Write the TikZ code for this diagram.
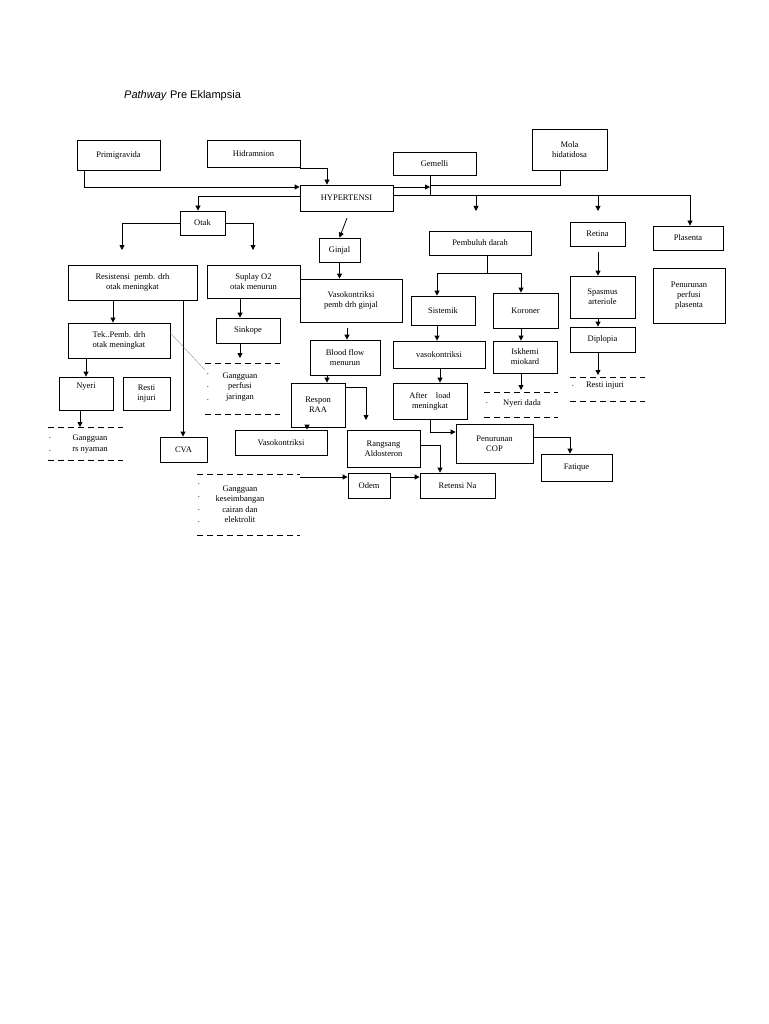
\documentclass[tikz,border=0pt]{standalone}
\usepackage{fontspec}
\setmainfont{Liberation Serif}
\newfontfamily\arialf{Liberation Sans}
\usetikzlibrary{arrows.meta}
\tikzset{
 bx/.style={draw,line width=0.8pt,inner sep=0pt,align=center,font=\fontsize{8.5}{10}\selectfont},
 ln/.style={line width=0.8pt},
 ar/.style={line width=0.8pt,-{Triangle[length=5pt,width=5pt]}},
 dl/.style={line width=0.8pt,dash pattern=on 6pt off 4pt},
 tx/.style={align=center,inner sep=0pt,font=\fontsize{8.5}{10.5}\selectfont}
}
\newcommand\bx[6]{\node[bx,minimum width={(#4-#2)*1pt},minimum height={(#5-#3)*1pt}] (#1) at ({(#2+#4)/2},{(#3+#5)/2}) {#6};}
\begin{document}
\begin{tikzpicture}[x=1pt,y=-1pt]
\useasboundingbox (0,0) rectangle (768,1024);
\node[anchor=west,inner sep=0pt,font=\arialf\fontsize{11}{13}\selectfont] (title) at (124,96) {\textit{Pathway} Pre Eklampsia};
\bx{prim}{77}{140}{160}{170}{Primigravida}
\bx{hid}{207}{140}{300}{167}{Hidramnion}
\bx{gem}{393}{152}{476}{175}{Gemelli}
\bx{mola}{532}{129}{607}{170}{Mola\\hidatidosa}
\bx{hyp}{300}{185}{393}{211}{HYPERTENSI}
\bx{otak}{180}{211}{225}{235}{Otak}
\bx{ginj}{319}{238}{360}{262}{Ginjal}
\bx{pemb}{429}{231}{531}{255}{Pembuluh darah}
\bx{ret}{570}{222}{625}{246}{Retina}
\bx{plas}{653}{226}{723}{250}{Plasenta}
\bx{resis}{68}{265}{197}{300}{Resistensi\ \ pemb. drh\\otak meningkat}
\bx{supl}{207}{265}{300}{298}{Suplay O2\\otak menurun}
\bx{vgin}{300}{279}{402}{322}{Vasokontriksi\\pemb drh ginjal}
\bx{sist}{411}{296}{475}{325}{Sistemik}
\bx{kor}{493}{293}{558}{328}{Koroner}
\bx{spas}{570}{276}{635}{318}{Spasmus\\arteriole}
\bx{perf}{653}{268}{725}{323}{Penurunan\\perfusi\\plasenta}
\bx{tek}{68}{323}{170}{358}{Tek..Pemb. drh\\otak meningkat}
\bx{sink}{216}{318}{280}{343}{Sinkope}
\bx{blood}{310}{340}{380}{375}{Blood flow\\menurun}
\bx{vas}{393}{341}{485}{368}{vasokontriksi}
\bx{isk}{493}{341}{557}{373}{Iskhemi\\miokard}
\bx{dipl}{570}{327}{635}{352}{Diplopia}
\bx{nyeri}{59}{377}{113}{410}{Nyeri\\[6pt]}
\bx{resti}{123}{377}{170}{410}{Resti\\injuri}
\bx{raa}{291}{383}{345}{427}{Respon\\RAA}
\bx{after}{393}{383}{467}{419}{After\quad load\\meningkat}
\bx{vas2}{235}{430}{327}{455}{Vasokontriksi}
\bx{cva}{160}{437}{207}{462}{CVA}
\bx{rang}{347}{430}{420}{467}{Rangsang\\Aldosteron}
\bx{cop}{456}{424}{533}{463}{Penurunan\\COP}
\bx{fat}{541}{454}{612}{481}{Fatique}
\bx{odem}{348}{473}{390}{498}{Odem}
\bx{natr}{420}{473}{495}{498}{Retensi Na}
% dashed text groups
\draw[dl] (205,363) -- (280,363); \draw[dl] (205,414) -- (280,414);
\node[tx] (gpj) at (240,387) {Gangguan\\perfusi\\jaringan};
\draw[dl] (48,427) -- (123,427); \draw[dl] (48,460) -- (123,460);
\node[tx] (grn) at (90,444) {Gangguan\\rs nyaman};
\draw[dl] (197,474) -- (300,474); \draw[dl] (197,535) -- (300,535);
\node[tx] (gke) at (240,504) {Gangguan\\keseimbangan\\cairan dan\\elektrolit};
\draw[dl] (484,392) -- (558,392); \draw[dl] (484,417) -- (558,417);
\node[tx] (nd) at (522,403) {Nyeri dada};
\draw[dl] (570,377) -- (645,377); \draw[dl] (570,401) -- (645,401);
\node[tx] (ri) at (605,386) {Resti injuri};
\foreach \y in {374,387,400} \node[tx] at (208,\y) {.};
\foreach \y in {438,451} \node[tx] at (50,\y) {.};
\foreach \y in {484,497,510,522} \node[tx] at (199,\y) {.};
\node[tx] at (487,403) {.};
\node[tx] at (573,386) {.};
% connectors
\coordinate (c1) at (84,187);
\draw[ar] (prim.south -| c1) |- (hyp.west |- c1);
\draw[ar] (hid.east |- 0,168) -| (hyp.north -| 327,0);
\draw[ln] (gem.south -| 430,0) -- (430,195);
\draw[ln] (mola.south -| 560,0) |- (430,185);
\draw[ar] (hyp.east |- 0,187) -- (430,187);
\draw[ln] (hyp.east |- 0,195) -- (690,195);
\draw[ar] (476,195) -- (476,211);
\draw[ar] (598,195) -- (598,211);
\draw[ar] (690,195) -- (plas.north -| 690,0);
\draw[ar] (hyp.west |- 0,196) -| (otak.north -| 198,0);
\draw[ar] (347,218) -- (ginj.north);
\draw[ar] (ginj.south) -- (vgin.north -| ginj.south);
\draw[ar] (otak.west) -| (122,250);
\draw[ar] (otak.east) -| (253,250);
\draw[ar] (resis.south -| 113,0) -- (tek.north -| 113,0);
\draw[ar] (resis.south -| 183,0) -- (cva.north -| 183,0);
\draw[line width=0.3pt,gray] (tek.east |- 0,333) -- (205,370);
\draw[ar] (tek.south -| 86,0) -- (nyeri.north -| 86,0);
\draw[ar] (nyeri.south -| 80,0) -- (80,427);
\draw[ar] (supl.south -| 240,0) -- (sink.north -| 240,0);
\draw[ar] (sink.south -| 240,0) -- (240,358);
\draw[ar] (347,328) -- (blood.north -| 347,0);
\draw[ar] (blood.south -| 327,0) -- (raa.north -| 327,0);
\draw[ar] (raa.south -| 307,0) -- (vas2.north -| 307,0);
\draw[ar] (raa.east |- 0,387) -| (366,420);
\draw[ar] (rang.east |- 0,445) -| (natr.north -| 440,0);
\draw[ar] (300,477) -- (odem.west |- 0,477);
\draw[ar] (odem.east |- 0,477) -- (natr.west |- 0,477);
\draw[ln] (pemb.south -| 487,0) -- (487,273);
\draw[ar] (437,273) -- (437,273) -- (sist.north -| 437,0);
\draw[ar] (487,273) -| (kor.north -| 521,0);
\draw[ln] (437,273) -- (487,273);
\draw[ar] (sist.south -| 437,0) -- (vas.north -| 437,0);
\draw[ar] (vas.south -| 440,0) -- (after.north -| 440,0);
\draw[ar] (kor.south -| 521,0) -- (isk.north -| 521,0);
\draw[ar] (isk.south -| 521,0) -- (521,390);
\draw[ar] (after.south -| 430,0) |- (cop.west |- 0,432);
\draw[ar] (cop.east |- 0,437) -| (fat.north -| 570,0);
\draw[ar] (ret.south -| 598,0) ++(0,6) -- (spas.north -| 598,0);
\draw[ar] (spas.south -| 598,0) -- (dipl.north -| 598,0);
\draw[ar] (dipl.south -| 598,0) -- (598,375);
\end{tikzpicture}
\end{document}
